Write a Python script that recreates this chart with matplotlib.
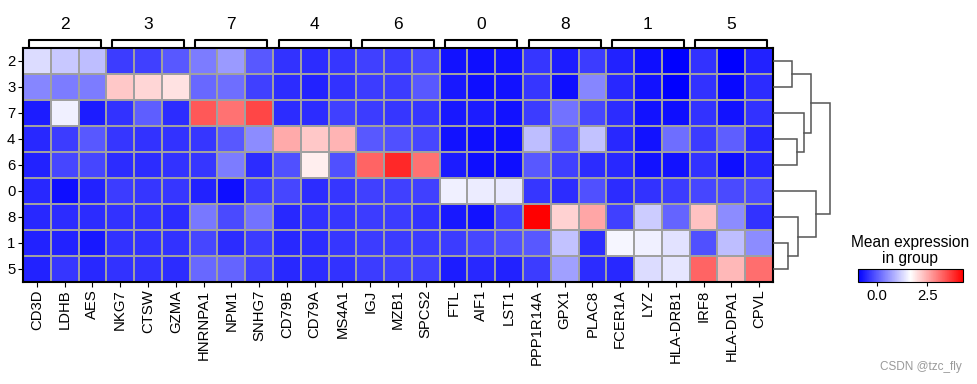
import numpy as np
import matplotlib
matplotlib.use("Agg")
import matplotlib.pyplot as plt

plt.rcParams["font.family"] = ["Liberation Sans", "DejaVu Sans"]

# cluster order (rows, top to bottom) and marker genes (3 per cluster)
groups = ["2", "3", "7", "4", "6", "0", "8", "1", "5"]
genes = [
    "CD3D", "LDHB", "AES",
    "NKG7", "CTSW", "GZMA",
    "HNRNPA1", "NPM1", "SNHG7",
    "CD79B", "CD79A", "MS4A1",
    "IGJ", "MZB1", "SPCS2",
    "FTL", "AIF1", "LST1",
    "PPP1R14A", "GPX1", "PLAC8",
    "FCER1A", "LYZ", "HLA-DRB1",
    "IRF8", "HLA-DPA1", "CPVL",
]
genes_per_group = 3

# mean expression per cluster (rows follow `groups`)
expr_2 = [1.32, 1.11, 1.01, -0.31, -0.26, -0.01, 0.35, 0.65, -0.01, -0.41, -0.46, -0.36,
          -0.26, -0.31, -0.16, -0.72, -0.77, -0.72, -0.36, -0.62, -0.31, -0.56, -0.77, -0.92,
          -0.41, -0.92, -0.56]
expr_3 = [0.45, 0.35, 0.35, 2.23, 2.08, 1.97, 0.15, 0.20, -0.26, -0.46, -0.56, -0.41,
          -0.31, -0.31, -0.01, -0.67, -0.77, -0.72, -0.36, -0.77, 0.45, -0.51, -0.72, -0.92,
          -0.41, -0.82, -0.46]
expr_7 = [-0.62, 1.52, -0.62, -0.41, 0.05, -0.46, 3.35, 3.09, 3.55, -0.46, -0.46, -0.26,
          -0.31, -0.36, -0.36, -0.67, -0.62, -0.72, -0.31, 0.25, -0.21, -0.46, -0.72, -0.77,
          -0.41, -0.72, -0.41]
expr_4 = [-0.51, -0.31, -0.01, -0.36, -0.41, -0.41, -0.36, -0.01, 0.50, 2.53, 2.23, 2.43,
          -0.01, -0.11, -0.21, -0.72, -0.77, -0.77, 1.01, -0.01, 1.06, -0.51, -0.72, 0.20,
          -0.31, 0.05, -0.51]
expr_6 = [-0.56, -0.21, -0.21, -0.46, -0.46, -0.41, -0.36, 0.35, -0.46, -0.11, 1.84, -0.11,
          3.24, 3.85, 3.09, -0.62, -0.77, -0.77, -0.01, -0.26, -0.46, -0.51, -0.72, -0.72,
          -0.41, -0.77, -0.51]
expr_0 = [-0.51, -0.77, -0.56, -0.31, -0.36, -0.36, -0.56, -0.77, -0.31, -0.21, -0.46, -0.36,
          -0.26, -0.26, -0.26, 1.52, 1.47, 1.44, -0.36, -0.46, -0.11, -0.46, -0.41, -0.31,
          -0.21, -0.16, -0.16]
expr_8 = [-0.51, -0.46, -0.46, -0.41, -0.41, -0.46, 0.30, -0.16, 0.25, -0.51, -0.41, -0.36,
          -0.31, -0.31, -0.41, -0.67, -0.72, -0.26, 4.26, 2.13, 2.58, -0.26, 1.16, 0.10,
          2.28, 0.50, -0.41]
expr_1 = [-0.56, -0.56, -0.67, -0.41, -0.41, -0.41, -0.21, -0.46, -0.31, -0.51, -0.46, -0.36,
          -0.31, -0.31, -0.31, -0.31, -0.21, -0.11, -0.01, 1.06, -0.46, 1.57, 1.52, 1.37,
          -0.11, 1.01, 0.50]
expr_5 = [-0.56, -0.36, -0.51, -0.41, -0.41, -0.46, 0.15, 0.10, -0.26, -0.51, -0.46, -0.41,
          -0.31, -0.26, -0.26, -0.62, -0.51, -0.56, -0.31, 0.70, -0.46, -0.51, 1.32, 1.42,
          3.24, 2.38, 3.14]

# dendrogram merges: (left, right, height); ids >= 9 refer to earlier merges
dendro_merges = [
    (0, 1, 0.33),
    (3, 4, 0.42),
    (2, 10, 0.54),
    (9, 11, 0.66),
    (7, 8, 0.26),
    (6, 13, 0.43),
    (5, 14, 0.75),
    (12, 15, 1.00),
]

data = np.array([expr_2, expr_3, expr_7, expr_4, expr_6, expr_0, expr_8, expr_1, expr_5])
n_rows, n_cols = data.shape

W, H = 978, 384
fig = plt.figure(figsize=(W / 100, H / 100), dpi=100)


def px_axes(x0, y0, x1, y1):
    # pixel box (top-left origin) -> figure axes
    return fig.add_axes([x0 / W, 1 - y1 / H, (x1 - x0) / W, (y1 - y0) / H])


ax = px_axes(23, 48, 773, 282)
mesh = ax.pcolormesh(np.arange(n_cols + 1), np.arange(n_rows + 1), data,
                     cmap="bwr", vmin=data.min(), vmax=data.max(),
                     edgecolors="#a0a0a0", linewidth=0.12)
ax.set_xlim(0, n_cols)
ax.set_ylim(n_rows, 0)
ax.set_xticks(np.arange(n_cols) + 0.5)
ax.set_xticklabels(genes, rotation=90, fontsize=10.7)
ax.set_yticks(np.arange(n_rows) + 0.5)
ax.set_yticklabels(groups, fontsize=10.7)
ax.tick_params(length=3.5, width=0.8, pad=2)
for s in ax.spines.values():
    s.set_linewidth(1.5)

# gene group brackets on top
trans = ax.get_xaxis_transform()
for i, g in enumerate(groups):
    left = i * genes_per_group + 0.2
    right = (i + 1) * genes_per_group - 0.2
    ax.plot([left, left, right, right], [1.004, 1.034, 1.034, 1.004],
            color="black", lw=1.5, transform=trans, clip_on=False)
    ax.text((left + right) / 2, 1.10, g, transform=trans, ha="center", va="center",
            fontsize=12.5)

# dendrogram on the right
dax = px_axes(773, 48, 836, 282)
dax.set_ylim(n_rows, 0)
dax.set_xlim(0, 1.1)
dax.axis("off")
pos = {i: (0.0, i + 0.5) for i in range(n_rows)}
for k, (a, b, h) in enumerate(dendro_merges):
    xa, ya = pos[a]
    xb, yb = pos[b]
    dax.plot([xa, h, h, xb], [ya, ya, yb, yb], color="#555555", lw=1.1,
             solid_joinstyle="miter")
    pos[n_rows + k] = (h, (ya + yb) / 2)

# colorbar legend
cax = px_axes(858, 269, 963, 282)
cb = fig.colorbar(mesh, cax=cax, orientation="horizontal", ticks=[0, 2.5])
cb.ax.tick_params(labelsize=10.7, length=3, width=0.8, pad=2)
cb.outline.set_linewidth(0.8)
cax.set_title("Mean expression\nin group", fontsize=11.2, pad=4, linespacing=1.1)

fig.text(962 / W, 1 - 367 / H, "CSDN @tzc_fly", ha="right", va="center",
         fontsize=8.5, color="#9a9a9a")

fig.savefig("out.png", dpi=100)
